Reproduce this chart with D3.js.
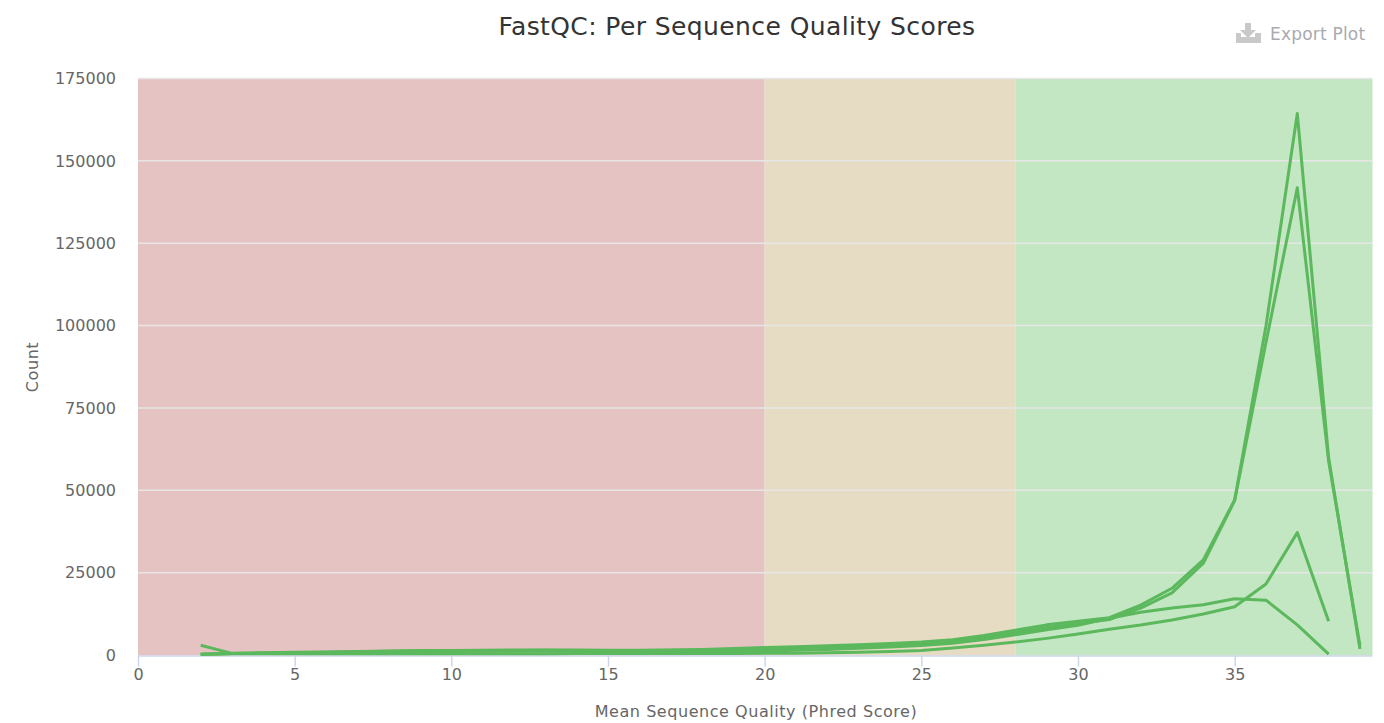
<!DOCTYPE html>
<html><head><meta charset="utf-8">
<script src="https://cdn.jsdelivr.net/npm/d3@7"></script>
<style>html,body{margin:0;padding:0;background:#fff;overflow:hidden}svg{display:block}text{font-family:"DejaVu Sans",sans-serif}</style>
</head><body><svg id="c" width="1384" height="723"></svg>
<script>
const title="FastQC: Per Sequence Quality Scores";
const xLabel="Mean Sequence Quality (Phred Score)";
const yLabel="Count";
const xTicks=[0,5,10,15,20,25,30,35];
const yTicks=[0,25000,50000,75000,100000,125000,150000,175000];
const bands=[{from:0,to:20,color:"#e6c3c3"},{from:20,to:28,color:"#e6dcc3"},{from:28,to:39.4,color:"#c3e6c3"}];
const quality=[2,3,4,5,6,7,8,9,10,11,12,13,14,15,16,17,18,19,20,21,22,23,24,25,26,27,28,29,30,31,32,33,34,35,36,37,38,39];
const seriesA=[3100,650,800,950,1100,1250,1400,1500,1550,1600,1650,1700,1700,1600,1600,1700,1850,2100,2450,2650,2950,3250,3650,4100,4800,6100,7700,9300,10400,11500,15300,20400,29000,47200,100000,164500,60000,2000];
const seriesB=[350,600,750,850,1000,1150,1300,1400,1450,1500,1550,1600,1550,1500,1500,1600,1700,1850,2050,2300,2600,2900,3300,3700,4400,5500,7000,8500,9700,10900,14400,19000,28000,47000,95000,142000,59000,3000];
const seriesC=[350,550,550,550,550,550,550,550,550,550,550,550,600,600,600,600,600,600,650,700,800,950,1200,1500,2300,3100,4100,5200,6500,8000,9250,10800,12600,14800,21700,37300,10400];
const seriesD=[350,600,700,750,850,950,1050,1150,1250,1300,1350,1400,1400,1300,1300,1300,1300,1350,1400,1600,1850,2200,2550,3050,3750,4850,6300,7800,9200,11300,13100,14400,15400,17200,16800,9300,400];
const allSeries=[seriesA,seriesB,seriesC,seriesD];

const plotL=138,plotR=1372.5,plotT=79,plotB=655.5;
const x=d3.scaleLinear().domain([0,39.4]).range([plotL,plotR]);
const y=d3.scaleLinear().domain([0,175000]).range([plotB,plotT]);
const svg=d3.select("#c");

svg.selectAll("rect.band").data(bands).enter().append("rect").attr("class","band")
  .attr("x",d=>x(d.from)).attr("y",plotT).attr("width",d=>x(d.to)-x(d.from)).attr("height",plotB-plotT).attr("fill",d=>d.color);

svg.selectAll("line.grid").data(yTicks.slice(1)).enter().append("line").attr("class","grid")
  .attr("x1",plotL).attr("x2",plotR).attr("y1",d=>y(d)-0.5).attr("y2",d=>y(d)-0.5)
  .attr("stroke","#e6e6e6").attr("stroke-width",1.5);

const xAxis=d3.axisBottom(x).tickValues(xTicks).tickSize(11).tickPadding(2).tickFormat(d3.format("d"));
const gx=svg.append("g").attr("transform",`translate(0,${plotB})`).call(xAxis);
gx.select(".domain").attr("d",`M${plotL},0.5H${plotR}`).attr("stroke","#ccd6eb").attr("stroke-width",1.5);
gx.selectAll(".tick line").attr("stroke","#ccd6eb").attr("stroke-width",1.5);
gx.selectAll("text").attr("font-size",16).attr("font-family","DejaVu Sans").attr("fill","#666");

const yAxis=d3.axisLeft(y).tickValues(yTicks).tickSize(0).tickPadding(22).tickFormat(d3.format("d"));
const gy=svg.append("g").attr("transform",`translate(${plotL},0)`).call(yAxis);
gy.select(".domain").remove();
gy.selectAll("text").attr("font-size",16).attr("font-family","DejaVu Sans").attr("fill","#666").attr("dy","0.3em");

const line=d3.line().x((d,i)=>x(quality[i])).y(d=>y(d));
svg.selectAll("path.s").data(allSeries).enter().append("path").attr("class","s")
  .attr("d",d=>line(d)).attr("fill","none").attr("stroke","#5cb85c").attr("stroke-width",3).attr("stroke-linejoin","round");

svg.append("text").attr("x",737).attr("y",35).attr("text-anchor","middle").attr("font-size",25).attr("fill","#333").style("letter-spacing","0.4px").text(title);
svg.append("text").attr("x",756).attr("y",717).attr("text-anchor","middle").attr("font-size",16).attr("fill","#666").style("letter-spacing","0.55px").text(xLabel);
svg.append("text").attr("transform","translate(38,367) rotate(-90)").attr("text-anchor","middle").attr("font-size",16).attr("fill","#666").style("letter-spacing","0.55px").text(yLabel);

const ic=svg.append("g").attr("fill","#c9c9c9");
ic.append("path").attr("d","M1245,23h6v7h5l-8,8l-8,-8h5z");
ic.append("path").attr("d","M1236,33h5v4h14v-4h6v10h-25z");
svg.append("text").attr("x",1270).attr("y",40).attr("font-size",17).attr("fill","#a9a9b0").style("letter-spacing","0.2px").text("Export Plot");
</script></body></html>
